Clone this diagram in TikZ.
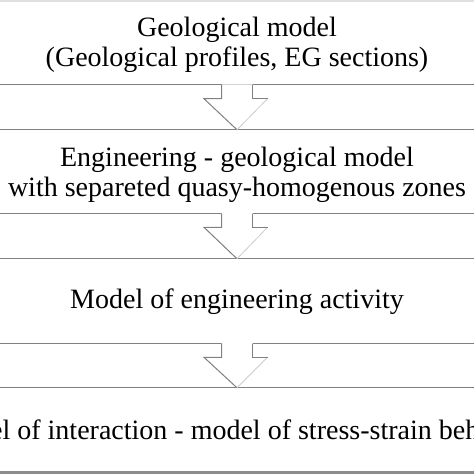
\documentclass[tikz,border=0pt]{standalone}
\usepackage{fontspec}
\setmainfont{Liberation Serif}
\usetikzlibrary{calc}
\newcommand{\blockarrow}[2]{%
  \fill[white] ($(#1.south)+(-15.5,0.6)$) -- ($(#1.south)+(-15.5,-13.8)$) -- ($(#1.south)+(-33,-13.8)$) -- (#2.north) -- ($(#1.south)+(30.5,-13.8)$) -- ($(#1.south)+(15.5,-13.8)$) -- ($(#1.south)+(15.5,0.6)$) -- cycle;
  \draw[edge] ($(#1.south)+(-15.5,0)$) -- ($(#1.south)+(-15.5,-13.8)$) -- ($(#1.south)+(-33,-13.8)$) -- (#2.north);
  \draw[faintedge] (#2.north) -- ($(#1.south)+(30.5,-13.8)$);
  \draw[edge] ($(#1.south)+(30.5,-13.8)$) -- ($(#1.south)+(15.5,-13.8)$) -- ($(#1.south)+(15.5,0)$);
}
\begin{document}
\begin{tikzpicture}[x=1pt,y=1pt,
  box/.style={minimum width=540pt, inner sep=0pt, draw=none},
  label/.style={inner sep=0pt, align=center, anchor=base,
    font=\fontsize{28}{30}\selectfont, text=black},
  edge/.style={draw=black!50, line width=1pt, line join=miter},
  faintedge/.style={draw=black!20, line width=0.8pt},
  topedge/.style={draw=black!12, line width=2pt},
  bottomedge/.style={draw=black!45, line width=3pt}]
\useasboundingbox (0,0) rectangle (474,-474);
\clip (0,0) rectangle (474,-474);
\fill[white] (0,0) rectangle (474,-474);
\node[box, minimum height=84.7pt] (b1) at (237,-42.35) {};
\node[box, minimum height=83.3pt] (b2) at (237,-171.65) {};
\node[box, minimum height=84.3pt] (b3) at (237,-301.15) {};
\node[box, minimum height=84pt] (b4) at (237,-430) {};
\node[label] (t1) at (237,-66.3) {Geological model\\(Geological profiles, EG sections)};
\node[label] (t2) at (237,-196.7) {Engineering - geological model\\with separeted quasy-homogenous zones};
\node[label] (t3) at (237,-308.3) {Model of engineering activity};
\node[label] (t4) at (237,-439) {Model of interaction - model of stress-strain behavior};
\draw[topedge] ($(b1.north west)+(0,-1)$) -- ($(b1.north east)+(0,-1)$);
\foreach \b in {b1,b2,b3}{\draw[edge] (\b.south west) -- (\b.south east);}
\foreach \b in {b2,b3,b4}{\draw[edge] (\b.north west) -- (\b.north east);}
\draw[bottomedge] ($(b4.south west)+(0,-0.5)$) -- ($(b4.south east)+(0,-0.5)$);
\blockarrow{b1}{b2}
\blockarrow{b2}{b3}
\blockarrow{b3}{b4}
\end{tikzpicture}
\end{document}
